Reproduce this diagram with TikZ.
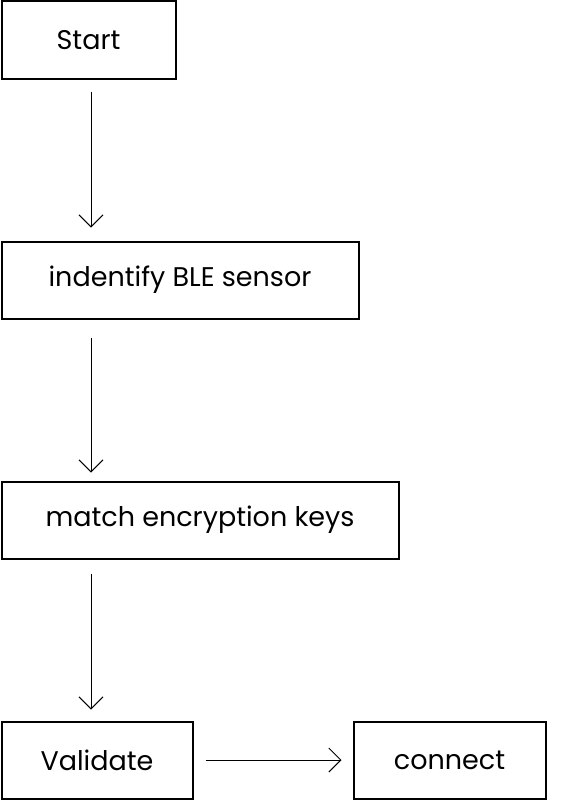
\documentclass[tikz,border=0pt]{standalone}
\usepackage{fontspec}
\setmainfont{Poppins}
\usetikzlibrary{arrows.meta}
\tikzset{
	stepbox/.style={draw,line width=2pt,anchor=north west,inner sep=0pt,
		minimum height=77pt,font=\fontsize{27}{32}\selectfont},
	flow/.style={-{Straight Barb[length=12pt,width=24pt]},line width=1pt}
}
\begin{document}
\begin{tikzpicture}[x=1pt,y=1pt]
	\useasboundingbox (0,0) rectangle (576,-800);

	% Boxes
	\node[stepbox,minimum width=174pt] (start) at (0.5,-0.5) {Start};
	\node[stepbox,minimum width=357pt] (ble) at (0.5,-240.5) {indentify BLE sensor};
	\node[stepbox,minimum width=397pt] (keys) at (0.5,-480.5) {match encryption keys};
	\node[stepbox,minimum width=191pt] (validate) at (0.5,-720.5) {Validate};
	\node[stepbox,minimum width=192pt] (connect) at (352.5,-720.5) {connect};

	% Arrows
	\draw[flow] ([shift={(90.5,-12)}]start.south west) -- ([shift={(90.5,13)}]ble.north west);
	\draw[flow] ([shift={(90.5,-18)}]ble.south west) -- ([shift={(90.5,8)}]keys.north west);
	\draw[flow] ([shift={(90.5,-14)}]keys.south west) -- ([shift={(90.5,11)}]validate.north west);
	\draw[flow] ([xshift=12]validate.east) -- ([xshift=-11]connect.west);

\end{tikzpicture}
\end{document}
